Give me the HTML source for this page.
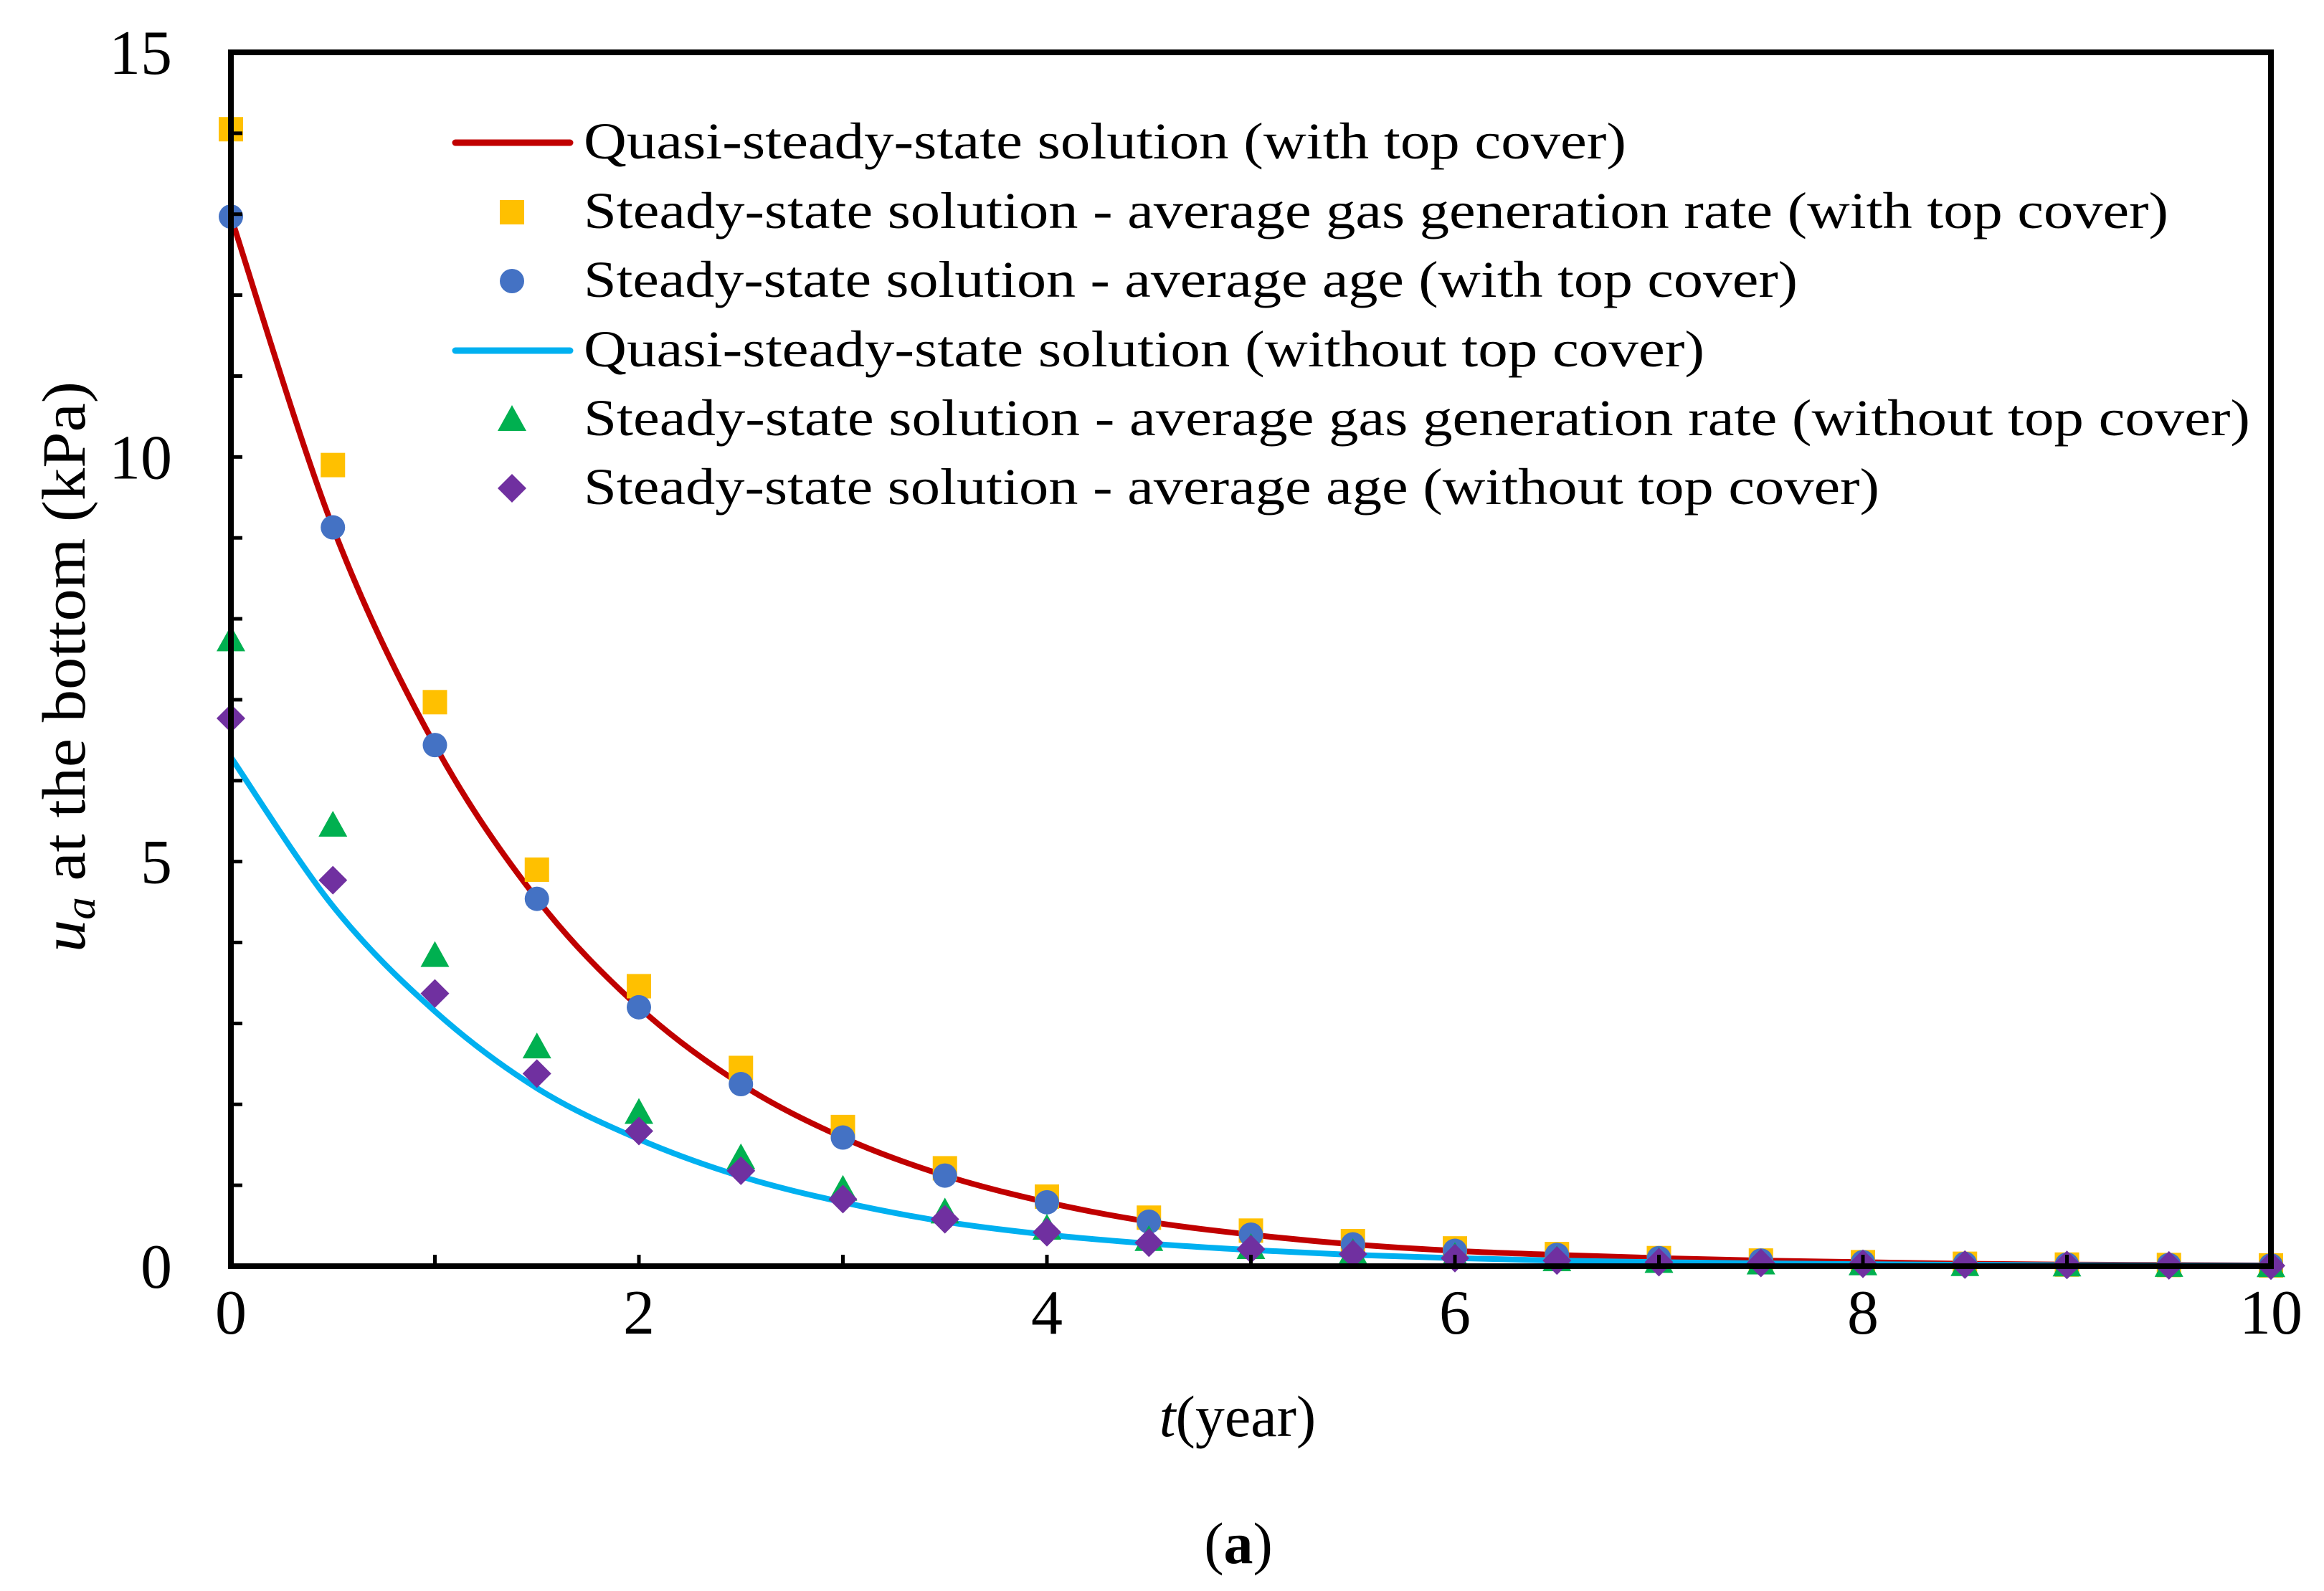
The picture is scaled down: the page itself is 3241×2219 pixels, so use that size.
<!DOCTYPE html>
<html><head><meta charset="utf-8"><style>
html,body{margin:0;padding:0;background:#fff}
svg{display:block}
text{font-family:"Liberation Serif",serif;fill:#000}
</style></head><body>
<svg id="chart" width="3241" height="2219" viewBox="0 0 3241 2219" xmlns="http://www.w3.org/2000/svg">
<g id="plot"></g>
<g id="axes"></g>
<g id="legend"></g>
<text x="118" y="930" font-size="86" text-anchor="middle" textLength="796" lengthAdjust="spacingAndGlyphs" transform="rotate(-90 118 930)"><tspan font-style="italic">u</tspan><tspan font-style="italic" font-size="60" dy="14">a</tspan><tspan dy="-14"> at the bottom (kPa)</tspan></text>
<text x="1726" y="2003" font-size="82" text-anchor="middle"><tspan font-style="italic">t</tspan>(year)</text>
<text x="1727" y="2180" font-size="82" text-anchor="middle">(<tspan font-weight="bold">a</tspan>)</text>
</svg>
<script>
const tVals=[0,0.5,1,1.5,2,2.5,3,3.5,4,4.5,5,5.5,6,6.5,7,7.5,8,8.5,9,9.5,10];
const quasiWith=[12.97,9.13,6.44,4.54,3.2,2.25,1.59,1.12,0.79,0.55,0.39,0.27,0.19,0.14,0.1,0.07,0.05,0.03,0.02,0.015,0.01];
const steadyRateWith=[14.05,9.9,6.97,4.9,3.46,2.45,1.72,1.21,0.86,0.6,0.44,0.31,0.22,0.15,0.1,0.07,0.05,0.03,0.02,0.015,0.01];
const steadyAgeWith=[12.97,9.13,6.44,4.54,3.2,2.25,1.59,1.12,0.79,0.55,0.39,0.27,0.19,0.14,0.1,0.07,0.05,0.03,0.02,0.015,0.01];
const quasiWithout=[6.29,4.45,3.15,2.2,1.57,1.11,0.79,0.55,0.39,0.28,0.2,0.14,0.1,0.07,0.05,0.035,0.025,0.017,0.012,0.009,0.006];
const steadyRateWithout=[7.74,5.45,3.84,2.71,1.9,1.34,0.95,0.67,0.47,0.33,0.23,0.17,0.12,0.08,0.06,0.04,0.03,0.02,0.015,0.01,0.007];
const steadyAgeWithout=[6.77,4.77,3.37,2.38,1.67,1.18,0.83,0.58,0.42,0.29,0.21,0.15,0.1,0.07,0.05,0.04,0.03,0.02,0.015,0.01,0.007];
const xTickLabels=["0","2","4","6","8","10"];
const yTickLabels=["0","5","10","15"];

const NS="http://www.w3.org/2000/svg";
const X0=322,X1=3167,Y0=1766,Y1=73;
const xs=v=>X0+(v-0)/(10-0)*(X1-X0);
const ys=v=>Y0-(v-0)/(15-0)*(Y0-Y1);
function mk(tag,attrs,parent){const e=document.createElementNS(NS,tag);for(const k in attrs)e.setAttribute(k,attrs[k]);parent.appendChild(e);return e;}
const plot=document.getElementById('plot'),axes=document.getElementById('axes'),legend=document.getElementById('legend');

function smoothPath(xv,yv){
  const p=xv.map((x,i)=>[xs(x),ys(yv[i])]);
  let d="M"+p[0][0]+","+p[0][1];
  for(let i=0;i<p.length-1;i++){
    const p0=p[Math.max(i-1,0)],p1=p[i],p2=p[i+1],p3=p[Math.min(i+2,p.length-1)];
    const c1=[p1[0]+(p2[0]-p0[0])/6,p1[1]+(p2[1]-p0[1])/6];
    const c2=[p2[0]-(p3[0]-p1[0])/6,p2[1]-(p3[1]-p1[1])/6];
    d+=" C"+c1[0]+","+c1[1]+" "+c2[0]+","+c2[1]+" "+p2[0]+","+p2[1];
  }
  return d;
}
function marker(kind,cx,cy,g){
  let e;
  if(kind==='square'){e=mk('rect',{x:cx-17,y:cy-17,width:34,height:34,fill:'#FFC000'},g);}
  else if(kind==='circle'){e=mk('circle',{cx:cx,cy:cy,r:17,fill:'#4472C4'},g);}
  else if(kind==='triangle'){e=mk('polygon',{points:(cx)+','+(cy-20)+' '+(cx+20)+','+(cy+16)+' '+(cx-20)+','+(cy+16),fill:'#00B050'},g);}
  else {e=mk('polygon',{points:cx+','+(cy-20)+' '+(cx+20)+','+cy+' '+cx+','+(cy+20)+' '+(cx-20)+','+cy,fill:'#7030A0'},g);}
  return e;
}

const frame=mk('rect',{x:X0,y:Y1,width:X1-X0,height:Y0-Y1,fill:'none',stroke:'#000','stroke-width':8},axes);


for(let v=0;v<=15;v++){
  const t=mk('line',{x1:X0,x2:X0+16,y1:ys(v),y2:ys(v),stroke:'#000','stroke-width':5},axes);
  
  
}
for(let v=0;v<=10;v++){
  const t=mk('line',{x1:xs(v),x2:xs(v),y1:Y0,y2:Y0-16,stroke:'#000','stroke-width':5},axes);
  
  
}
xTickLabels.forEach((s,i)=>{
  const t=mk('text',{x:xs(i*2),y:1860,'font-size':88,'text-anchor':'middle'},axes);t.textContent=s;
  
  
});
yTickLabels.forEach((s,i)=>{
  const t=mk('text',{x:240,y:ys(i*5)+30,'font-size':88,'text-anchor':'end'},axes);t.textContent=s;
  
  
});

const l1=mk('path',{d:smoothPath(tVals,quasiWith),fill:'none',stroke:'#C00000','stroke-width':8},plot);


const l2=mk('path',{d:smoothPath(tVals,quasiWithout),fill:'none',stroke:'#00B0F0','stroke-width':8},plot);


const series=[['square',steadyRateWith,'steady-rate-with-point'],['circle',steadyAgeWith,'steady-age-with-point'],['triangle',steadyRateWithout,'steady-rate-without-point'],['diamond',steadyAgeWithout,'steady-age-without-point']];
series.forEach(([k,arr,nm])=>{
  arr.forEach((v,i)=>{
    const m=marker(k,xs(tVals[i]),ys(v),plot);
    
    
  });
});

const entries=[
 ['line','#C00000','Quasi-steady-state solution (with top cover)',2268],
 ['square','','Steady-state solution - average gas generation rate (with top cover)',3024],
 ['circle','','Steady-state solution - average age (with top cover)',2507],
 ['line','#00B0F0','Quasi-steady-state solution (without top cover)',2377],
 ['triangle','','Steady-state solution - average gas generation rate (without top cover)',3138],
 ['diamond','','Steady-state solution - average age (without top cover)',2621]
];
const rowY=[199,296,392,489,585,681];
entries.forEach((e,i)=>{
  const y=rowY[i];
  let s;
  if(e[0]==='line'){s=mk('line',{x1:635,x2:795,y1:y,y2:y,stroke:e[1],'stroke-width':9,'stroke-linecap':'round'},legend);}
  else s=marker(e[0],714,y,legend);
  
  
  const t=mk('text',{x:814,y:y+22,'font-size':72,textLength:e[3]-814,lengthAdjust:'spacingAndGlyphs'},legend);
  t.textContent=e[2];
  
  
});
</script>
</body></html>
